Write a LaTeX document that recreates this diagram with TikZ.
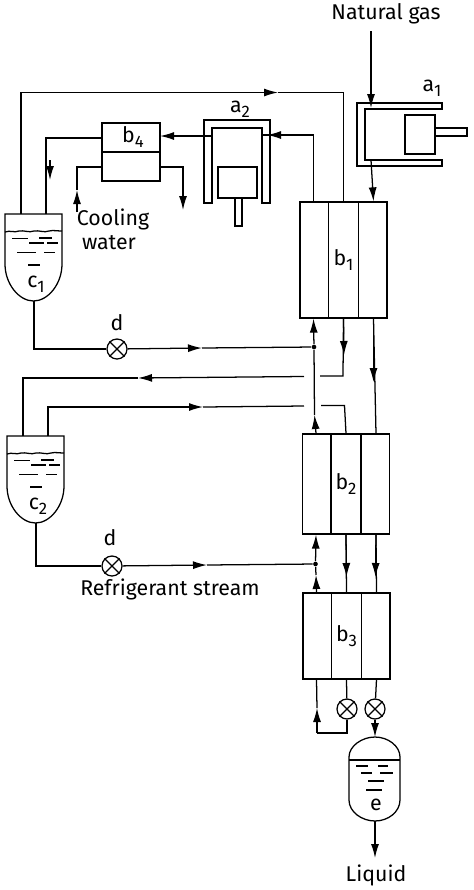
\documentclass[tikz,border=0pt]{standalone}
\usepackage{fontspec}
\usepackage{tikz}
\usetikzlibrary{arrows.meta}
\setmainfont{Fira Sans}
\newcommand{\lowidx}[1]{\raisebox{-3.5pt}{\fontsize{12.5}{12.5}\selectfont #1}}
\tikzset{
	lab/.style={font=\fontsize{16}{18}\selectfont,inner sep=0pt},
	exch/.style={draw,minimum width=65.25pt,minimum height=#1,inner sep=0pt,font=\fontsize{16}{18}\selectfont},
	valve/.style={draw,circle,fill=white,minimum size=15pt,inner sep=0pt},
	dot/.style={circle,fill=black,minimum size=3.5pt,inner sep=0pt},
	part/.style={draw,minimum width=#1,inner sep=0pt},
	flow/.style={-{Latex[length=10.5pt,width=6pt]}},
}
\begin{document}
\begin{tikzpicture}[x=0.75pt,y=-0.75pt,line width=0.95pt]
	\useasboundingbox (0,0) rectangle (474,890);
	% exchangers
	\node[exch=87pt] (b1) at (343.5,260) {b\lowidx{1}};
	\node[exch=75pt] (b2) at (346,484) {b\lowidx{2}};
	\node[exch=64.5pt] (b3) at (346.5,636) {b\lowidx{3}};
	\foreach \n in {b1,b2,b3} {
		\draw ([xshift=-11.25pt]\n.north) -- ([xshift=-11.25pt]\n.south);
		\draw ([xshift=11.25pt]\n.north) -- ([xshift=11.25pt]\n.south);
		\coordinate (\n-nl) at ([xshift=-22.5pt]\n.north);
		\coordinate (\n-nr) at ([xshift=22.5pt]\n.north);
		\coordinate (\n-sl) at ([xshift=-22.5pt]\n.south);
		\coordinate (\n-sr) at ([xshift=22.5pt]\n.south);
	}
	\node[draw,minimum width=43.5pt,minimum height=43.5pt] (b4) at (131,152) {};
	\draw (b4.west) -- (b4.east);
	\node[lab] (b4lab) at (133,137) {b\lowidx{4}};
	% compressors
	\draw (442,103) -- (357,103) -- (357,166) -- (442,166) -- (442,160) -- (365,160) -- (365,109) -- (442,109) -- cycle;
	\node[part=22.5pt,minimum height=29.25pt] (a1p) at (420,134.5) {};
	\node[part=24pt,minimum height=6pt] (a1r) at (451,132) {};
	\node[lab] (a1lab) at (432,88) {a\lowidx{1}};
	\draw (204,203) -- (204,120) -- (270,120) -- (270,203) -- (262,203) -- (262,128) -- (212,128) -- (212,203) -- cycle;
	\node[part=29.25pt,minimum height=23.25pt] (a2p) at (237.5,182.5) {};
	\node[part=5.25pt,minimum height=21pt] (a2r) at (238.5,212) {};
	\node[lab] (a2lab) at (240,109) {a\lowidx{2}};
	% separators
	\foreach \n/\cx/\cy/\s in {c1/5/214/1,c2/7/436/2} {
		\begin{scope}[shift={(\cx,\cy)}]
			\draw (0,0) -- (57,0) -- (57,50) .. controls (57,70) and (43,87) .. (28.5,87) .. controls (14,87) and (0,70) .. (0,50) -- cycle;
			\draw (0,18) .. controls (5,16) and (9,19) .. (14,17) .. controls (19,16) and (24,19) .. (29,17) .. controls (34,16) and (39,19) .. (44,17) .. controls (48,16) and (52,17) .. (57,17);
			\foreach \xa/\xb/\yy in {7/23/24.5,34/47/24,24/39/29,42/53/29,12/31/38.5,39/50/38.5,23/35/51}
				\draw (\xa,\yy) -- (\xb,\yy);
			\node[lab] (\n lab) at (31,70) {c\lowidx{\s}};
			\coordinate (\n-a) at (16,0);
			\coordinate (\n-b) at (41,0);
			\coordinate (\n-s) at (29,87);
		\end{scope}
	}
	% receiver
	\draw (349,757) .. controls (349,746) and (362,737) .. (375,737) .. controls (388,737) and (400,746) .. (400,757) -- (400,800) .. controls (400,812) and (388,821) .. (375,821) .. controls (362,821) and (349,812) .. (349,800) -- cycle;
	\draw (349,760) -- (400,760);
	\foreach \xa/\xb/\yy in {356/368/766,378/388/766,361/372/773,380/393/773,368/384/781,366/382/790}
		\draw (\xa,\yy) -- (\xb,\yy);
	\node[lab] (elab) at (376,805) {e};
	% valves
	\node[valve] (d1) at (117,349) {};
	\node[valve] (d2) at (112,566) {};
	\node[valve] (v1) at (347,709) {};
	\node[valve] (v2) at (375,709) {};
	\foreach \n in {d1,d2,v1,v2} {
		\draw (\n.45) -- (\n.225);
		\draw (\n.135) -- (\n.315);
	}
	\node[lab] (d1lab) at (117,323) {d};
	\node[lab] (d2lab) at (110,538) {d};
	% natural gas side
	\node[lab] (gas) at (386,14) {Natural gas};
	\coordinate (gas-in) at (371,31);
	\coordinate (a1-in) at (371,108);
	\coordinate (a1-out) at (371,160);
	\draw[flow] (gas-in) -- (a1-in);
	\draw[flow] (a1-out) -- (b1-nr);
	\draw (b1-sr) -- (b2-nr);
	\coordinate (g1) at (373.5,382);
	\draw[flow] (b1-sr) -- (g1);
	\coordinate (g2) at (375.5,577);
	\draw (b2-sr) -- (b3-nr);
	\draw[flow] (b2-sr) -- (g2);
	\coordinate (g3) at (346.5,577);
	\draw (b2.south) -- (b3.north);
	\draw[flow] (b2.south) -- (g3);
	\draw (b3-sr) -- (v2);
	\coordinate (e-n) at (375,737);
	\draw[flow] (v2) -- (e-n);
	\coordinate (e-s) at (375,821);
	\coordinate (liq) at (375,858);
	\draw[flow] (e-s) -- (liq);
	\node[lab] (liquid) at (376,875) {Liquid};
	% first refrigerant loop
	\coordinate (r1) at (278,92.5);
	\draw[flow] (c1-a) |- (r1);
	\draw (r1) -| (b1.north);
	\coordinate (a2-in) at (262,135);
	\coordinate (a2-out) at (212,136);
	\coordinate (r2) at (267,135);
	\coordinate (r2b) at (285,135);
	\draw (b1-nl) |- (a2-in);
	\draw[flow] (r2b) -- (r2);
	\coordinate (b4-a) at (160,136);
	\draw[flow] (a2-out) -- (b4-a);
	\coordinate (b4-b) at (102,138);
	\coordinate (r3) at (50,180);
	\coordinate (r3b) at (50,160);
	\draw (b4-b) -| (c1-b);
	\draw[flow] (r3b) -- (r3);
	% cooling water
	\coordinate (cw-a) at (77,212);
	\coordinate (cw-b) at (77,190);
	\coordinate (b4-c) at (102,167);
	\coordinate (b4-d) at (160,167);
	\coordinate (cw-c) at (183,210);
	\draw[flow] (cw-a) -- (cw-b);
	\draw (cw-b) |- (b4-c);
	\draw[flow] (b4-d) -| (cw-c);
	\node[lab] (cool) at (113,219) {Cooling};
	\node[lab] (water) at (109,243) {water};
	% expansion into exchangers
	\node[dot] (j1) at (314,347) {};
	\node[dot] (j2) at (315.5,564) {};
	\coordinate (r4) at (202,348);
	\draw (c1-s) |- (d1);
	\draw[flow] (d1) -- (r4);
	\draw (r4) -- (j1);
	\coordinate (r5) at (207,565);
	\draw (c2-s) |- (d2);
	\draw[flow] (d2) -- (r5);
	\draw (r5) -- (j2);
	\node[lab] (refr) at (170,589) {Refrigerant stream};
	% rising streams
	\draw[flow] (j1) -- (b1-sl);
	\coordinate (u1) at (314.5,415);
	\draw[flow] (b2-nl) -- (u1);
	\draw (u1) -- (j1);
	\draw[flow] (j2) -- (b2-sl);
	\coordinate (u2) at (316,575);
	\draw[flow] (b3-nl) -- (u2);
	\draw (u2) -- (j2);
	% return to second separator
	\coordinate (m1) at (343,376);
	\coordinate (m2) at (320,376);
	\coordinate (m3) at (304,376.5);
	\coordinate (m4) at (138,378);
	\coordinate (m5) at (344,355);
	\draw (b1.south) -- (m1) -- (m2);
	\draw[flow] (b1.south) -- (m5);
	\draw[flow] (m3) -- (m4);
	\draw (m4) -| (c2-a);
	\coordinate (n1) at (344.5,405.5);
	\coordinate (n2) at (321,405.5);
	\coordinate (n3) at (304,406);
	\coordinate (n4) at (203,407);
	\draw (b2.north) -- (n1) -- (n2);
	\draw[flow] (c2-b) |- (n4);
	\draw (n4) -- (n3);
	% coldest stage
	\coordinate (w1) at (317,733);
	\coordinate (w2) at (347,733);
	\coordinate (w3) at (317,708);
	\draw[flow] (w1) -- (w3);
	\draw (w3) -- (b3-sl);
	\draw (w1) -- (w2) -- (v1);
	\draw (v1) -- (b3.south);
\end{tikzpicture}
\end{document}
